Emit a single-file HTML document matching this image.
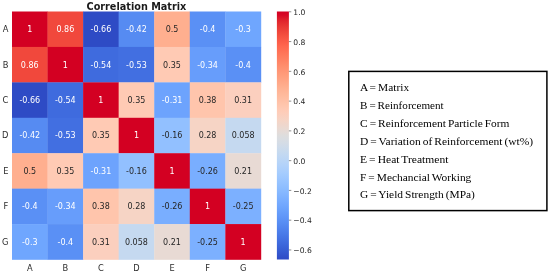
<!DOCTYPE html>
<html lang="en">
<head>
<meta charset="utf-8">
<title>Correlation Matrix</title>
<style>
html,body{margin:0;padding:0;background:#fff;}
body{width:550px;height:276px;overflow:hidden;position:relative;}
svg{position:absolute;left:0;top:0;display:block;}
.sans{font-family:"DejaVu Sans","Liberation Sans",sans-serif;}
.ann{font-size:8px;text-anchor:middle;}
.tick{font-size:8.3px;fill:#2b2b2b;}
.ctick{font-size:7.6px;fill:#262626;}
.title{font-size:9.7px;font-weight:bold;text-anchor:middle;fill:#1a1a1a;}
#legend{position:absolute;left:349px;top:72px;width:197px;height:138px;font-family:"Liberation Serif","DejaVu Serif",serif;font-size:9.6px;color:#000;}
#legend div{position:absolute;left:10.6px;white-space:nowrap;line-height:12px;transform-origin:0 0;word-spacing:-0.7px;}
</style>
</head>
<body>
<svg width="550" height="276" viewBox="0 0 550 276" class="sans">
<defs><linearGradient id="cb" x1="0" y1="1" x2="0" y2="0">
<stop offset="0.0000" stop-color="#2e4bc5"/>
<stop offset="0.0156" stop-color="#3252cb"/>
<stop offset="0.0312" stop-color="#355ad1"/>
<stop offset="0.0469" stop-color="#3961d6"/>
<stop offset="0.0625" stop-color="#3d68dc"/>
<stop offset="0.0781" stop-color="#426fe1"/>
<stop offset="0.0938" stop-color="#4676e6"/>
<stop offset="0.1094" stop-color="#4b7dea"/>
<stop offset="0.1250" stop-color="#5083ee"/>
<stop offset="0.1406" stop-color="#558af1"/>
<stop offset="0.1562" stop-color="#5a90f5"/>
<stop offset="0.1719" stop-color="#6096f8"/>
<stop offset="0.1875" stop-color="#659cfa"/>
<stop offset="0.2031" stop-color="#6ba2fc"/>
<stop offset="0.2188" stop-color="#71a7fe"/>
<stop offset="0.2344" stop-color="#77acff"/>
<stop offset="0.2500" stop-color="#7db1ff"/>
<stop offset="0.2656" stop-color="#84b6ff"/>
<stop offset="0.2812" stop-color="#8abbff"/>
<stop offset="0.2969" stop-color="#90bfff"/>
<stop offset="0.3125" stop-color="#96c3ff"/>
<stop offset="0.3281" stop-color="#9dc7ff"/>
<stop offset="0.3438" stop-color="#a3cbfe"/>
<stop offset="0.3594" stop-color="#aacefc"/>
<stop offset="0.3750" stop-color="#b0d1fb"/>
<stop offset="0.3906" stop-color="#b6d4f8"/>
<stop offset="0.4062" stop-color="#bcd6f5"/>
<stop offset="0.4219" stop-color="#c2d8f2"/>
<stop offset="0.4375" stop-color="#c8daee"/>
<stop offset="0.4531" stop-color="#cedbea"/>
<stop offset="0.4688" stop-color="#d4dce6"/>
<stop offset="0.4844" stop-color="#d9dde2"/>
<stop offset="0.5000" stop-color="#dedddd"/>
<stop offset="0.5156" stop-color="#e5dbd7"/>
<stop offset="0.5312" stop-color="#ebd9d1"/>
<stop offset="0.5469" stop-color="#f0d6cb"/>
<stop offset="0.5625" stop-color="#f6d4c5"/>
<stop offset="0.5781" stop-color="#fad0bf"/>
<stop offset="0.5938" stop-color="#fecdb9"/>
<stop offset="0.6094" stop-color="#ffc9b3"/>
<stop offset="0.6250" stop-color="#ffc5ac"/>
<stop offset="0.6406" stop-color="#ffc0a6"/>
<stop offset="0.6562" stop-color="#ffbc9f"/>
<stop offset="0.6719" stop-color="#ffb799"/>
<stop offset="0.6875" stop-color="#ffb293"/>
<stop offset="0.7031" stop-color="#ffac8c"/>
<stop offset="0.7188" stop-color="#ffa686"/>
<stop offset="0.7344" stop-color="#ffa07f"/>
<stop offset="0.7500" stop-color="#ff9a79"/>
<stop offset="0.7656" stop-color="#ff9373"/>
<stop offset="0.7812" stop-color="#ff8d6c"/>
<stop offset="0.7969" stop-color="#ff8566"/>
<stop offset="0.8125" stop-color="#ff7e60"/>
<stop offset="0.8281" stop-color="#ff775a"/>
<stop offset="0.8438" stop-color="#ff6f54"/>
<stop offset="0.8594" stop-color="#ff674f"/>
<stop offset="0.8750" stop-color="#fc5e49"/>
<stop offset="0.8906" stop-color="#f85644"/>
<stop offset="0.9062" stop-color="#f34d3e"/>
<stop offset="0.9219" stop-color="#ee4339"/>
<stop offset="0.9375" stop-color="#e93834"/>
<stop offset="0.9531" stop-color="#e42c2f"/>
<stop offset="0.9688" stop-color="#de1e2a"/>
<stop offset="0.9844" stop-color="#d80926"/>
<stop offset="1.0000" stop-color="#d30022"/>
</linearGradient></defs>
<text class="title" x="136.45" y="9.8">Correlation Matrix</text>
<g>
<rect x="12.00" y="11.50" width="35.86" height="35.73" fill="#d30022"/>
<rect x="47.56" y="11.50" width="35.86" height="35.73" fill="#f1483c"/>
<rect x="83.11" y="11.50" width="35.86" height="35.73" fill="#2e4bc5"/>
<rect x="118.67" y="11.50" width="35.86" height="35.73" fill="#568bf2"/>
<rect x="154.23" y="11.50" width="35.86" height="35.73" fill="#ffaf8f"/>
<rect x="189.79" y="11.50" width="35.86" height="35.73" fill="#5a90f5"/>
<rect x="225.34" y="11.50" width="35.86" height="35.73" fill="#6fa6fe"/>
<rect x="12.00" y="46.93" width="35.86" height="35.73" fill="#f1483c"/>
<rect x="47.56" y="46.93" width="35.86" height="35.73" fill="#d30022"/>
<rect x="83.11" y="46.93" width="35.86" height="35.73" fill="#3f6bde"/>
<rect x="118.67" y="46.93" width="35.86" height="35.73" fill="#426fe1"/>
<rect x="154.23" y="46.93" width="35.86" height="35.73" fill="#ffcab4"/>
<rect x="189.79" y="46.93" width="35.86" height="35.73" fill="#679dfb"/>
<rect x="225.34" y="46.93" width="35.86" height="35.73" fill="#5a90f5"/>
<rect x="12.00" y="82.36" width="35.86" height="35.73" fill="#2e4bc5"/>
<rect x="47.56" y="82.36" width="35.86" height="35.73" fill="#3f6bde"/>
<rect x="83.11" y="82.36" width="35.86" height="35.73" fill="#d30022"/>
<rect x="118.67" y="82.36" width="35.86" height="35.73" fill="#ffcab4"/>
<rect x="154.23" y="82.36" width="35.86" height="35.73" fill="#6da3fd"/>
<rect x="189.79" y="82.36" width="35.86" height="35.73" fill="#ffc5ac"/>
<rect x="225.34" y="82.36" width="35.86" height="35.73" fill="#fbcfbe"/>
<rect x="12.00" y="117.79" width="35.86" height="35.73" fill="#568bf2"/>
<rect x="47.56" y="117.79" width="35.86" height="35.73" fill="#426fe1"/>
<rect x="83.11" y="117.79" width="35.86" height="35.73" fill="#ffcab4"/>
<rect x="118.67" y="117.79" width="35.86" height="35.73" fill="#d30022"/>
<rect x="154.23" y="117.79" width="35.86" height="35.73" fill="#92c0ff"/>
<rect x="189.79" y="117.79" width="35.86" height="35.73" fill="#f6d4c5"/>
<rect x="225.34" y="117.79" width="35.86" height="35.73" fill="#c5d9f0"/>
<rect x="12.00" y="153.21" width="35.86" height="35.73" fill="#ffaf8f"/>
<rect x="47.56" y="153.21" width="35.86" height="35.73" fill="#ffcab4"/>
<rect x="83.11" y="153.21" width="35.86" height="35.73" fill="#6da3fd"/>
<rect x="118.67" y="153.21" width="35.86" height="35.73" fill="#92c0ff"/>
<rect x="154.23" y="153.21" width="35.86" height="35.73" fill="#d30022"/>
<rect x="189.79" y="153.21" width="35.86" height="35.73" fill="#79aeff"/>
<rect x="225.34" y="153.21" width="35.86" height="35.73" fill="#e8dad4"/>
<rect x="12.00" y="188.64" width="35.86" height="35.73" fill="#5a90f5"/>
<rect x="47.56" y="188.64" width="35.86" height="35.73" fill="#679dfb"/>
<rect x="83.11" y="188.64" width="35.86" height="35.73" fill="#ffc5ac"/>
<rect x="118.67" y="188.64" width="35.86" height="35.73" fill="#f6d4c5"/>
<rect x="154.23" y="188.64" width="35.86" height="35.73" fill="#79aeff"/>
<rect x="189.79" y="188.64" width="35.86" height="35.73" fill="#d30022"/>
<rect x="225.34" y="188.64" width="35.86" height="35.73" fill="#7cb0ff"/>
<rect x="12.00" y="224.07" width="35.86" height="35.73" fill="#6fa6fe"/>
<rect x="47.56" y="224.07" width="35.86" height="35.73" fill="#5a90f5"/>
<rect x="83.11" y="224.07" width="35.86" height="35.73" fill="#fbcfbe"/>
<rect x="118.67" y="224.07" width="35.86" height="35.73" fill="#c5d9f0"/>
<rect x="154.23" y="224.07" width="35.86" height="35.73" fill="#e8dad4"/>
<rect x="189.79" y="224.07" width="35.86" height="35.73" fill="#7cb0ff"/>
<rect x="225.34" y="224.07" width="35.86" height="35.73" fill="#d30022"/>
</g>
<text class="ann" x="29.78" y="32.09" fill="#ffffff">1</text>
<text class="ann" x="65.34" y="32.09" fill="#ffffff">0.86</text>
<text class="ann" x="100.89" y="32.09" fill="#ffffff">-0.66</text>
<text class="ann" x="136.45" y="32.09" fill="#ffffff">-0.42</text>
<text class="ann" x="172.01" y="32.09" fill="#262626">0.5</text>
<text class="ann" x="207.56" y="32.09" fill="#ffffff">-0.4</text>
<text class="ann" x="243.12" y="32.09" fill="#ffffff">-0.3</text>
<text class="ann" x="29.78" y="67.52" fill="#ffffff">0.86</text>
<text class="ann" x="65.34" y="67.52" fill="#ffffff">1</text>
<text class="ann" x="100.89" y="67.52" fill="#ffffff">-0.54</text>
<text class="ann" x="136.45" y="67.52" fill="#ffffff">-0.53</text>
<text class="ann" x="172.01" y="67.52" fill="#262626">0.35</text>
<text class="ann" x="207.56" y="67.52" fill="#ffffff">-0.34</text>
<text class="ann" x="243.12" y="67.52" fill="#ffffff">-0.4</text>
<text class="ann" x="29.78" y="102.95" fill="#ffffff">-0.66</text>
<text class="ann" x="65.34" y="102.95" fill="#ffffff">-0.54</text>
<text class="ann" x="100.89" y="102.95" fill="#ffffff">1</text>
<text class="ann" x="136.45" y="102.95" fill="#262626">0.35</text>
<text class="ann" x="172.01" y="102.95" fill="#ffffff">-0.31</text>
<text class="ann" x="207.56" y="102.95" fill="#262626">0.38</text>
<text class="ann" x="243.12" y="102.95" fill="#262626">0.31</text>
<text class="ann" x="29.78" y="138.38" fill="#ffffff">-0.42</text>
<text class="ann" x="65.34" y="138.38" fill="#ffffff">-0.53</text>
<text class="ann" x="100.89" y="138.38" fill="#262626">0.35</text>
<text class="ann" x="136.45" y="138.38" fill="#ffffff">1</text>
<text class="ann" x="172.01" y="138.38" fill="#262626">-0.16</text>
<text class="ann" x="207.56" y="138.38" fill="#262626">0.28</text>
<text class="ann" x="243.12" y="138.38" fill="#262626">0.058</text>
<text class="ann" x="29.78" y="173.81" fill="#262626">0.5</text>
<text class="ann" x="65.34" y="173.81" fill="#262626">0.35</text>
<text class="ann" x="100.89" y="173.81" fill="#ffffff">-0.31</text>
<text class="ann" x="136.45" y="173.81" fill="#262626">-0.16</text>
<text class="ann" x="172.01" y="173.81" fill="#ffffff">1</text>
<text class="ann" x="207.56" y="173.81" fill="#262626">-0.26</text>
<text class="ann" x="243.12" y="173.81" fill="#262626">0.21</text>
<text class="ann" x="29.78" y="209.24" fill="#ffffff">-0.4</text>
<text class="ann" x="65.34" y="209.24" fill="#ffffff">-0.34</text>
<text class="ann" x="100.89" y="209.24" fill="#262626">0.38</text>
<text class="ann" x="136.45" y="209.24" fill="#262626">0.28</text>
<text class="ann" x="172.01" y="209.24" fill="#262626">-0.26</text>
<text class="ann" x="207.56" y="209.24" fill="#ffffff">1</text>
<text class="ann" x="243.12" y="209.24" fill="#262626">-0.25</text>
<text class="ann" x="29.78" y="244.67" fill="#ffffff">-0.3</text>
<text class="ann" x="65.34" y="244.67" fill="#ffffff">-0.4</text>
<text class="ann" x="100.89" y="244.67" fill="#262626">0.31</text>
<text class="ann" x="136.45" y="244.67" fill="#262626">0.058</text>
<text class="ann" x="172.01" y="244.67" fill="#262626">0.21</text>
<text class="ann" x="207.56" y="244.67" fill="#262626">-0.25</text>
<text class="ann" x="243.12" y="244.67" fill="#ffffff">1</text>
<text class="tick" text-anchor="end" x="8.4" y="32.20">A</text>
<text class="tick" text-anchor="middle" x="29.78" y="270.9">A</text>
<text class="tick" text-anchor="end" x="8.4" y="67.63">B</text>
<text class="tick" text-anchor="middle" x="65.34" y="270.9">B</text>
<text class="tick" text-anchor="end" x="8.4" y="103.06">C</text>
<text class="tick" text-anchor="middle" x="100.89" y="270.9">C</text>
<text class="tick" text-anchor="end" x="8.4" y="138.49">D</text>
<text class="tick" text-anchor="middle" x="136.45" y="270.9">D</text>
<text class="tick" text-anchor="end" x="8.4" y="173.92">E</text>
<text class="tick" text-anchor="middle" x="172.01" y="270.9">E</text>
<text class="tick" text-anchor="end" x="8.4" y="209.35">F</text>
<text class="tick" text-anchor="middle" x="207.56" y="270.9">F</text>
<text class="tick" text-anchor="end" x="8.4" y="244.77">G</text>
<text class="tick" text-anchor="middle" x="243.12" y="270.9">G</text>
<rect x="276.90" y="11.50" width="12.00" height="248.00" fill="url(#cb)"/>
<line x1="288.90" x2="291.30" y1="11.80" y2="11.80" stroke="#444" stroke-width="0.6"/>
<text class="ctick" x="293.30" y="15.04">1.0</text>
<line x1="288.90" x2="291.30" y1="41.57" y2="41.57" stroke="#444" stroke-width="0.6"/>
<text class="ctick" x="293.30" y="44.81">0.8</text>
<line x1="288.90" x2="291.30" y1="71.34" y2="71.34" stroke="#444" stroke-width="0.6"/>
<text class="ctick" x="293.30" y="74.58">0.6</text>
<line x1="288.90" x2="291.30" y1="101.11" y2="101.11" stroke="#444" stroke-width="0.6"/>
<text class="ctick" x="293.30" y="104.35">0.4</text>
<line x1="288.90" x2="291.30" y1="130.88" y2="130.88" stroke="#444" stroke-width="0.6"/>
<text class="ctick" x="293.30" y="134.12">0.2</text>
<line x1="288.90" x2="291.30" y1="160.65" y2="160.65" stroke="#444" stroke-width="0.6"/>
<text class="ctick" x="293.30" y="163.89">0.0</text>
<line x1="288.90" x2="291.30" y1="190.42" y2="190.42" stroke="#444" stroke-width="0.6"/>
<text class="ctick" x="293.30" y="193.66">−0.2</text>
<line x1="288.90" x2="291.30" y1="220.19" y2="220.19" stroke="#444" stroke-width="0.6"/>
<text class="ctick" x="293.30" y="223.43">−0.4</text>
<line x1="288.90" x2="291.30" y1="249.96" y2="249.96" stroke="#444" stroke-width="0.6"/>
<text class="ctick" x="293.30" y="253.20">−0.6</text>
<rect x="348.8" y="71.4" width="198.1" height="139.2" fill="none" stroke="#000" stroke-width="1.5"/>
</svg>
<div id="legend">
<div style="top:10.3px;transform:scaleX(1.1881)">A = Matrix</div>
<div style="top:28.2px;transform:scaleX(1.1590)">B = Reinforcement</div>
<div style="top:46.0px;transform:scaleX(1.1893)">C = Reinforcement Particle Form</div>
<div style="top:63.9px;transform:scaleX(1.1955)">D = Variation of Reinforcement (wt%)</div>
<div style="top:81.7px;transform:scaleX(1.2045)">E = Heat Treatment</div>
<div style="top:99.5px;transform:scaleX(1.1872)">F = Mechancial Working</div>
<div style="top:117.4px;transform:scaleX(1.1895)">G = Yield Strength (MPa)</div>
</div>
</body>
</html>
